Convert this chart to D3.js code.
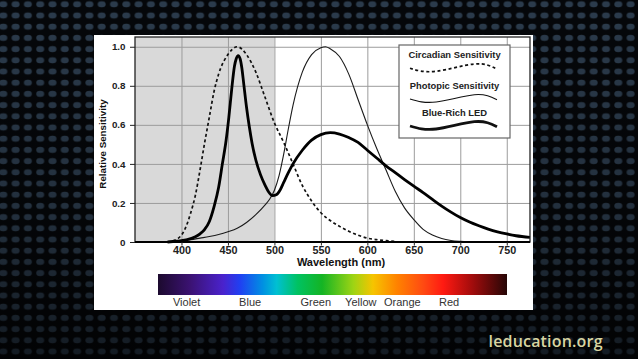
<!DOCTYPE html>
<html>
<head>
<meta charset="utf-8">
<script src="https://cdn.jsdelivr.net/npm/d3@7"></script>
<style>
  body { margin: 0; background: #05070a; }
  svg { display: block; }
</style>
</head>
<body>
<div id="chart"></div>
<script>
// wavelength (nm) / relative sensitivity
const circadian = [
  [385, 0], [390, 0.005], [400, 0.035], [405, 0.08], [410, 0.15], [415, 0.24],
  [420, 0.37], [425, 0.51], [430, 0.64], [435, 0.77], [440, 0.86], [450, 0.96],
  [460, 1.0], [470, 0.96], [480, 0.87], [490, 0.74], [500, 0.61], [510, 0.51],
  [520, 0.40], [530, 0.29], [540, 0.21], [550, 0.15], [560, 0.11], [570, 0.08],
  [580, 0.055], [590, 0.035], [600, 0.02], [610, 0.012], [620, 0.007], [630, 0.003]
];

const photopic = [
  [385, 0], [390, 0.004], [400, 0.008], [410, 0.012], [420, 0.02], [430, 0.028],
  [440, 0.038], [450, 0.052], [460, 0.07], [470, 0.10], [480, 0.14], [490, 0.19],
  [495, 0.22], [500, 0.265], [505, 0.34], [510, 0.45], [515, 0.58], [520, 0.70],
  [530, 0.87], [540, 0.96], [550, 0.995], [555, 1.0], [560, 0.99], [570, 0.95],
  [580, 0.86], [590, 0.73], [600, 0.60], [610, 0.48], [620, 0.37], [630, 0.26],
  [640, 0.175], [650, 0.115], [660, 0.065], [670, 0.036], [680, 0.018], [690, 0.008],
  [700, 0.003], [710, 0]
];

const blueLed = [
  [385, 0], [395, 0.004], [405, 0.011], [415, 0.027], [420, 0.042], [425, 0.065],
  [430, 0.105], [435, 0.18], [440, 0.28], [444, 0.40], [448, 0.52], [451, 0.64],
  [454, 0.78], [457, 0.90], [459, 0.94], [461, 0.955], [463, 0.94], [465, 0.89],
  [467, 0.81], [470, 0.69], [473, 0.59], [476, 0.505], [480, 0.42], [485, 0.345],
  [490, 0.29], [494, 0.255], [498, 0.238], [502, 0.242], [506, 0.265], [510, 0.305],
  [515, 0.355], [520, 0.40], [530, 0.47], [540, 0.522], [550, 0.55], [560, 0.56],
  [570, 0.553], [580, 0.535], [590, 0.51], [600, 0.47], [610, 0.43], [620, 0.39],
  [630, 0.355], [640, 0.32], [650, 0.286], [660, 0.253], [670, 0.218], [680, 0.184],
  [690, 0.153], [700, 0.125], [710, 0.102], [720, 0.083], [730, 0.066], [740, 0.052],
  [750, 0.041], [760, 0.032], [775, 0.024]
];

const wlDomain = [350, 775];
const shadeRange = [350, 500];
const wlTicks = [400, 450, 500, 550, 600, 650, 700, 750];
const sensTicks = [0, 0.2, 0.4, 0.6, 0.8, 1.0];

const legendItems = ['Circadian Sensitivity', 'Photopic Sensitivity', 'Blue-Rich LED'];
const legendWave = [[0, 0], [0.3, 3], [0.74, -4.3], [1, 0.8]];

const colorNames = ['Violet', 'Blue', 'Green', 'Yellow', 'Orange', 'Red'];
const colorNameAt = [0.082, 0.264, 0.452, 0.581, 0.7, 0.834];
const spectrumStops = [
  [0, '#1c0a2e'], [0.092, '#3b1272'], [0.186, '#4a22cc'], [0.235, '#2040f2'],
  [0.30, '#0090e2'], [0.34, '#00c0d2'], [0.40, '#00c262'], [0.47, '#14b424'],
  [0.56, '#9ed414'], [0.616, '#f6c400'], [0.685, '#ff8200'], [0.76, '#ff4a12'],
  [0.817, '#ff1a12'], [0.90, '#a20c0c'], [1, '#260606']
];

const width = 638;
const height = 359;
const font = 'Liberation Sans, Arial, sans-serif';

const svg = d3.select('#chart')
  .append('svg')
  .attr('width', width)
  .attr('height', height);

const defs = svg.append('defs');

// dotted dark backdrop
const pat = defs.append('pattern')
  .attr('id', 'dots')
  .attr('patternUnits', 'userSpaceOnUse')
  .attr('width', 12.3).attr('height', 11.2)
  .attr('x', -2.85).attr('y', -1.3);
pat.append('rect').attr('width', 12.3).attr('height', 11.2).attr('fill', '#05070a');
pat.append('ellipse')
  .attr('cx', 6.15).attr('cy', 5.6).attr('rx', 4).attr('ry', 3.1)
  .attr('fill', '#2b3b4c');

const fade = defs.append('linearGradient')
  .attr('id', 'fade').attr('x1', 0).attr('x2', 0).attr('y1', 0).attr('y2', 1);
fade.append('stop').attr('offset', 0).attr('stop-color', '#000').attr('stop-opacity', 0);
fade.append('stop').attr('offset', 0.6).attr('stop-color', '#000').attr('stop-opacity', 0.2);
fade.append('stop').attr('offset', 1).attr('stop-color', '#000').attr('stop-opacity', 0.55);

svg.append('rect').attr('width', width).attr('height', height).attr('fill', 'url(#dots)');
svg.append('rect').attr('width', width).attr('height', height).attr('fill', 'url(#fade)');

// white slide panel
svg.append('rect')
  .attr('x', 94).attr('y', 35).attr('width', 439).attr('height', 275)
  .attr('fill', '#fff');

const plot = { left: 135, right: 530, top: 37, bottom: 242 };

const x = d3.scaleLinear().domain(wlDomain).range([plot.left, plot.right]);
const y = d3.scaleLinear().domain([0, 1.05]).range([plot.bottom, plot.top]);

// shaded short-wavelength band
svg.append('rect')
  .attr('x', x(shadeRange[0]))
  .attr('y', plot.top)
  .attr('width', x(shadeRange[1]) - x(shadeRange[0]))
  .attr('height', plot.bottom - plot.top)
  .attr('fill', '#d9d9d9');

// gridlines
const gridX = svg.append('g')
  .attr('transform', `translate(0, ${plot.bottom})`)
  .call(d3.axisBottom(x).tickValues(wlTicks).tickFormat('').tickSize(-(plot.bottom - plot.top)));
const gridY = svg.append('g')
  .attr('transform', `translate(${plot.left}, 0)`)
  .call(d3.axisLeft(y).tickValues(sensTicks.slice(1)).tickFormat('').tickSize(-(plot.right - plot.left)));
[gridX, gridY].forEach((g) => {
  g.select('.domain').remove();
  g.selectAll('.tick line').attr('stroke', '#9c9c9c').attr('stroke-width', 1);
});

// curves
const line = d3.line()
  .x((d) => x(d[0]))
  .y((d) => y(d[1]))
  .curve(d3.curveMonotoneX);

svg.append('path').datum(photopic)
  .attr('d', line).attr('fill', 'none')
  .attr('stroke', '#1a1a1a').attr('stroke-width', 1.1);

svg.append('path').datum(circadian)
  .attr('d', line).attr('fill', 'none')
  .attr('stroke', '#111').attr('stroke-width', 1.7)
  .attr('stroke-dasharray', '3,2.6');

svg.append('path').datum(blueLed)
  .attr('d', line).attr('fill', 'none')
  .attr('stroke', '#000').attr('stroke-width', 2.8)
  .attr('stroke-linejoin', 'round');

// frame
svg.append('rect')
  .attr('x', plot.left).attr('y', plot.top)
  .attr('width', plot.right - plot.left).attr('height', plot.bottom - plot.top)
  .attr('fill', 'none').attr('stroke', '#222').attr('stroke-width', 1.3);

// axes
const xAxis = svg.append('g')
  .attr('transform', `translate(0, ${plot.bottom})`)
  .call(d3.axisBottom(x).tickValues(wlTicks).tickSize(3.5).tickPadding(0.8));
xAxis.select('.domain')
  .attr('d', `M${plot.left},0H${plot.right}`)
  .attr('stroke', '#000').attr('stroke-width', 2.2);
xAxis.selectAll('.tick line').attr('stroke', '#222');
xAxis.selectAll('text')
  .attr('font-family', font)
  .attr('font-size', 10.8).attr('font-weight', 'bold').attr('fill', '#222');

const yAxis = svg.append('g')
  .attr('transform', `translate(${plot.left}, 0)`)
  .call(d3.axisLeft(y).tickValues(sensTicks).tickSize(5).tickPadding(4.5)
    .tickFormat((d) => (d === 0 ? '0' : d3.format('.1f')(d))));
yAxis.select('.domain').remove();
yAxis.selectAll('.tick line').attr('stroke', '#222');
yAxis.selectAll('text')
  .attr('font-family', font)
  .attr('font-size', 9.8).attr('font-weight', 'bold').attr('fill', '#222');

svg.append('text')
  .attr('transform', 'translate(105.5, 144) rotate(-90)')
  .attr('text-anchor', 'middle')
  .attr('font-family', font)
  .attr('font-size', 9.8).attr('font-weight', 'bold').attr('fill', '#111')
  .text('Relative Sensitivity');

svg.append('text')
  .attr('x', 341).attr('y', 265.5)
  .attr('text-anchor', 'middle')
  .attr('font-family', font)
  .attr('font-size', 11).attr('font-weight', 'bold').attr('fill', '#111')
  .text('Wavelength (nm)');

// legend
const legend = svg.append('g').attr('transform', 'translate(399, 45)');
legend.append('rect')
  .attr('width', 111).attr('height', 93)
  .attr('fill', '#fff').attr('stroke', '#666').attr('stroke-width', 1.2);

const waveX = d3.scaleLinear().domain([0, 1]).range([11, 98]);
const wave = d3.line().x((d) => waveX(d[0])).y((d) => d[1]).curve(d3.curveNatural);
const legendStyles = [
  { width: 1.7, dash: '3,2.6', top: 13.3 },
  { width: 1.1, dash: null, top: 44 },
  { width: 2.8, dash: null, top: 71 }
];

legendItems.forEach((label, i) => {
  const s = legendStyles[i];
  legend.append('text')
    .attr('x', 55.5).attr('y', s.top)
    .attr('text-anchor', 'middle')
    .attr('font-family', font)
    .attr('font-size', 9.4).attr('font-weight', 'bold').attr('fill', '#222')
    .text(label);
  legend.append('path')
    .datum(legendWave)
    .attr('transform', `translate(0, ${s.top + 10})`)
    .attr('d', wave).attr('fill', 'none')
    .attr('stroke', '#111').attr('stroke-width', s.width)
    .attr('stroke-dasharray', s.dash);
});

// spectrum bar
const spec = defs.append('linearGradient').attr('id', 'spectrum');
spec.selectAll('stop').data(spectrumStops).join('stop')
  .attr('offset', (d) => d[0])
  .attr('stop-color', (d) => d[1]);

const bar = { x: 158, y: 274, w: 349, h: 21 };
svg.append('rect')
  .attr('x', bar.x).attr('y', bar.y).attr('width', bar.w).attr('height', bar.h)
  .attr('fill', 'url(#spectrum)');

const barScale = d3.scaleLinear().domain([0, 1]).range([bar.x, bar.x + bar.w]);
svg.selectAll('.color-name')
  .data(colorNames)
  .join('text')
  .attr('class', 'color-name')
  .attr('x', (d, i) => barScale(colorNameAt[i]))
  .attr('y', 305.5)
  .attr('text-anchor', 'middle')
  .attr('font-family', font)
  .attr('font-size', 11).attr('fill', '#333')
  .text((d) => d);

// site credit
svg.append('text')
  .attr('x', 488.5).attr('y', 346.5)
  .attr('font-family', 'Open Sans, sans-serif')
  .attr('font-size', 16).attr('font-weight', 600)
  .attr('fill', '#d8d5a2')
  .attr('textLength', 114)
  .text('leducation.org');
</script>
</body>
</html>
